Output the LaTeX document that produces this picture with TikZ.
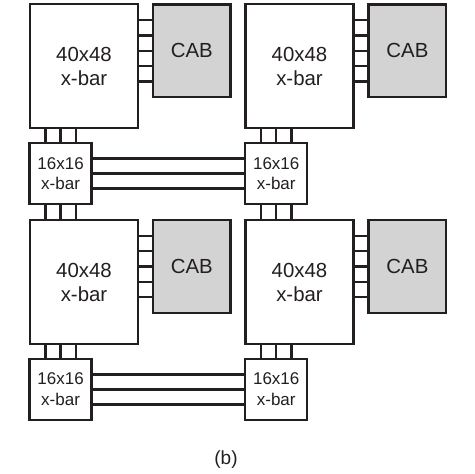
\documentclass[tikz,border=0pt]{standalone}
\usepackage{fontspec}
\setmainfont{Liberation Sans}
\definecolor{cabgray}{RGB}{211,211,211}
\definecolor{ink}{RGB}{35,31,32}
\begin{document}
\begin{tikzpicture}[x=0.5pt,y=-0.5pt,
  line width=1.25pt, draw=ink,
  bigbox/.style={draw=ink, fill=white, line width=1.25pt, inner sep=0pt, outer sep=0pt, minimum width=54pt, minimum height=62pt, align=center, font=\fontsize{10.2}{12}\selectfont, text=ink},
  cabbox/.style={draw=ink, fill=cabgray, line width=1.25pt, inner sep=0pt, outer sep=0pt, minimum width=38.8pt, minimum height=46.3pt, font=\fontsize{10.2}{12}\selectfont, text=ink},
  smallbox/.style={draw=ink, fill=white, line width=1.25pt, inner sep=0pt, outer sep=0pt, minimum width=31pt, minimum height=30.5pt, align=center, font=\fontsize{8.5}{10.4}\selectfont, text=ink},
  wire/.style={draw=ink, line width=1.2pt}
]
\useasboundingbox (0,0) rectangle (474,474);
% top row
\node[bigbox] (bigTL) at (84,66) {40x48\\x-bar};
\node[cabbox] (cabTL) at (191.75,50.75) {CAB};
\node[smallbox] (xTL) at (60.6,173.7) {16x16\\x-bar};
\node[bigbox] (bigTR) at (299.5,66) {40x48\\x-bar};
\node[cabbox] (cabTR) at (407.4,50.75) {CAB};
\node[smallbox] (xTR) at (276.2,173.7) {16x16\\x-bar};
% bottom row
\node[bigbox] (bigBL) at (84,282) {40x48\\x-bar};
\node[cabbox] (cabBL) at (191.75,266.5) {CAB};
\node[smallbox] (xBL) at (60.6,389.5) {16x16\\x-bar};
\node[bigbox] (bigBR) at (299.5,282) {40x48\\x-bar};
\node[cabbox] (cabBR) at (407.4,266.5) {CAB};
\node[smallbox] (xBR) at (276.2,389.5) {16x16\\x-bar};
% CAB stubs
\foreach \b/\c in {bigTL/cabTL,bigTR/cabTR,bigBL/cabBL,bigBR/cabBR}{
  \foreach \s in {-15.3pt,-7.65pt,0pt,7.65pt,15.3pt}{
    \draw[wire] ([yshift=\s]\c.west) -- ([yshift=\s]\c.west -| \b.east);
  }
}
% vertical stubs
\foreach \x/\u/\d in {xTL/bigTL/bigBL,xTR/bigTR/bigBR}{
  \foreach \s in {-7.65pt,0pt,7.65pt}{
    \draw[wire] ([xshift=\s]\x.north) -- ([xshift=\s]\x.north |- \u.south);
    \draw[wire] ([xshift=\s]\x.south) -- ([xshift=\s]\x.south |- \d.north);
  }
}
\foreach \s in {-7.65pt,0pt,7.65pt}{
  \draw[wire] ([xshift=\s]xBL.north) -- ([xshift=\s]xBL.north |- bigBL.south);
  \draw[wire] ([xshift=\s]xBR.north) -- ([xshift=\s]xBR.north |- bigBR.south);
}
% links between 16x16 switches
\foreach \s in {-7.5pt,0pt,7.5pt}{
  \draw[wire] ([yshift=\s]xTL.east) -- ([yshift=\s]xTR.west);
  \draw[wire] ([yshift=\s]xBL.east) -- ([yshift=\s]xBR.west);
}
\node[font=\fontsize{9.5}{11}\selectfont, text=ink] (lab) at (226,460) {(b)};
\end{tikzpicture}
\end{document}
